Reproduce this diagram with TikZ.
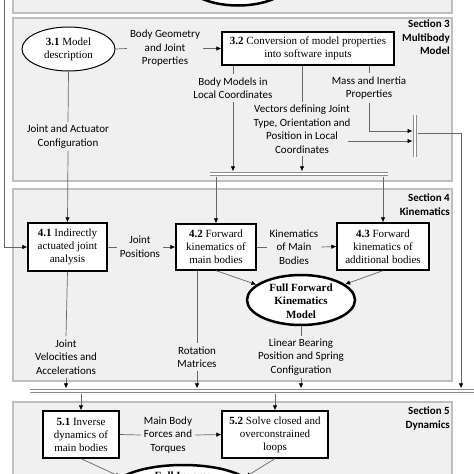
\documentclass[tikz,border=0pt]{standalone}
\usepackage{fontspec}
\setmainfont{Liberation Serif}
\newfontfamily\labfont{Carlito}
\usetikzlibrary{shapes.geometric,arrows.meta,calc}
\begin{document}
\begin{tikzpicture}[x=1pt,y=-1pt,
  sec/.style={draw=black!25, fill=black!6, line width=1.2pt},
  proc/.style={draw, line width=1.3pt, fill=white, align=center, font=\fontsize{11}{13}\selectfont, inner sep=1pt},
  oval/.style={ellipse, draw, line width=1pt, fill=white, align=center, font=\fontsize{11}{13}\selectfont, inner sep=0pt},
  big/.style={ellipse, draw, line width=2.5pt, fill=white, inner sep=0pt},
  bigtext/.style={align=center, font=\fontsize{11}{13.5}\selectfont\bfseries, inner sep=0pt},
  lab/.style={align=center, font=\labfont\fontsize{11}{13.5}\selectfont, inner sep=3pt},
  sect/.style={align=right, font=\labfont\bfseries\fontsize{11}{13.5}\selectfont, anchor=north east, inner sep=0pt},
  ln/.style={draw=black!60, line width=0.7pt},
  arr/.style={ln, -{Latex[length=5pt,width=4.5pt,color=black]}},
  bar/.style={draw=black!45, double=white, double distance=2.2pt, line width=0.8pt}
]
\useasboundingbox[fill=white] (0,0) rectangle (474,474);

% section frames
\draw[sec] (13,-30) rectangle (452,13);
\draw[sec] (13,18) rectangle (452,181);
\draw[sec] (13,189) rectangle (452,381);
\draw[sec] (13,402) rectangle (452,500);

% remnants of section 2
\node[big, minimum width=110, minimum height=55] (e2) at (238,-22) {};
\node[lab, anchor=base, inner sep=0pt] (acc) at (75,0.5) {Acceleration};

% coordinates for bars and free ends
\coordinate (b1a) at (210,174); \coordinate (b1b) at (388,174);
\coordinate (b1t) at (0,171.3); \coordinate (b1d) at (0,176.5);
\coordinate (vba) at (415,115); \coordinate (vbb) at (415,157);
\coordinate (vin1) at (412.5,131); \coordinate (vin2) at (412.5,141);
\coordinate (vout) at (417.5,133); \coordinate (rc) at (461,133);
\coordinate (b2a) at (30,391); \coordinate (b2b) at (474,391);
\coordinate (b2t) at (0,388.3); \coordinate (b2d) at (0,393.5);
\coordinate (ltop) at (4,-1); \coordinate (lc) at (4,247);

% Section 3
\node[oval, minimum width=93, minimum height=44] (e31) at (68.5,49) {\textbf{3.1} Model\\description};
\node[lab] (bg) at (165,48.5) {Body Geometry\\and Joint\\Properties};
\node[proc, minimum width=172, minimum height=33] (p32) at (308,48.5) {\textbf{3.2} Conversion of model properties\\into software inputs};
\node[sect] (s3) at (450,20) {Section 3\\Multibody\\Model};
\node[lab] (bm) at (233,88) {Body Models in\\Local Coordinates};
\node[lab] (mi) at (369,88) {Mass and Inertia\\Properties};
\node[lab] (vec) at (302,129) {Vectors defining Joint\\Type, Orientation and\\Position in Local\\Coordinates};
\node[lab] (jac) at (68,136.5) {Joint and Actuator\\Configuration};

% Section 4
\node[proc, minimum width=79, minimum height=48] (p41) at (67.5,247) {\textbf{4.1} Indirectly\\actuated joint\\analysis};
\node[lab] (jp) at (140,247) {Joint\\Positions};
\node[proc, minimum width=80, minimum height=46] (p42) at (216,247) {\textbf{4.2} Forward\\kinematics of\\main bodies};
\node[lab] (kmb) at (294,247) {Kinematics\\of Main\\Bodies};
\node[proc, minimum width=92, minimum height=47] (p43) at (383,246.5) {\textbf{4.3} Forward\\kinematics of\\additional bodies};
\node[sect] (s4) at (450,194) {Section 4\\Kinematics};
\node[big, minimum width=108, minimum height=50] (ffk) at (301,300) {};
\node[bigtext] (ffkt) at (301,301) {Full Forward\\Kinematics\\Model};
\node[lab] (jva) at (66,357) {Joint\\Velocities and\\Accelerations};
\node[lab] (rm) at (197,357) {Rotation\\Matrices};
\node[lab] (lbp) at (301,357) {Linear Bearing\\Position and Spring\\Configuration};

% Section 5
\node[proc, minimum width=76, minimum height=47] (p51) at (81,434.5) {\textbf{5.1} Inverse\\dynamics of\\main bodies};
\node[lab] (mbf) at (168,435) {Main Body\\Forces and\\Torques};
\node[proc, minimum width=106, minimum height=47] (p52) at (275,434.5) {\textbf{5.2} Solve closed and\\overconstrained\\loops};
\node[sect] (s5) at (450,407) {Section 5\\Dynamics};
\node[big, minimum width=140, minimum height=48] (fid) at (183,489) {};
\node[bigtext, anchor=base] (fidt) at (183,479.5) {Full Inverse};

% bars
\draw[bar] (b1a) -- (b1b);
\draw[bar] (vba) -- (vbb);
\draw[bar] (b2a) -- (b2b);

% connectors section 3
\draw[ln] (e31.east) -- (bg.west);
\draw[arr] (bg.east) -- (p32.west);
\draw[ln] (bm.north |- p32.south) -- (bm.north);
\draw[ln] (vec.north |- p32.south) -- (vec.north);
\draw[ln] (mi.north |- p32.south) -- (mi.north);
\draw[arr] (bm.south) -- (bm.south |- b1t);
\draw[arr] (vec.south) -- (vec.south |- b1t);
\draw[arr] (mi.south) -- (mi.south |- vin1) -- (vin1);
\draw[arr] ($(vec.east |- vin2)+(-6,0)$) -- (vin2);
\draw[arr] (vout) -- (rc) -- (rc |- b2t);
\draw[ln] (e31.south) -- (jac.north);
\draw[arr] (jac.south) -- (p41.north);
\draw[arr] (ltop) -- (lc) -- (p41.west);

% connectors section 4
\draw[arr] (p42.north |- b1d) -- (p42.north);
\draw[arr] (p43.north |- b1d) -- (p43.north);
\draw[ln] (p41.east) -- (jp.west);
\draw[arr] (jp.east) -- (p42.west);
\draw[ln] (p42.east) -- (kmb.west);
\draw[arr] (kmb.east) -- (p43.west);
\draw[arr] (p42.south) -- (ffk);
\draw[arr] (p43.south) -- (ffk);
\draw[ln] (p41.south) -- (jva.north);
\draw[arr] (jva.south) -- (jva.south |- b2t);
\draw[ln] (rm.north |- p42.south) -- (rm.north);
\draw[arr] (rm.south) -- (rm.south |- b2t);
\draw[ln] (ffk.south) -- (lbp.north);
\draw[arr] (lbp.south) -- (lbp.south |- b2t);

% connectors section 5
\draw[arr] (p51.north |- b2d) -- (p51.north);
\draw[arr] (p52.north |- b2d) -- (p52.north);
\draw[ln] (p51.east) -- (mbf.west);
\draw[arr] (mbf.east) -- (p52.west);
\draw[arr] (p51.south) -- (fid.169);
\draw[arr] (p52.south) -- (fid.11);
\end{tikzpicture}
\end{document}
